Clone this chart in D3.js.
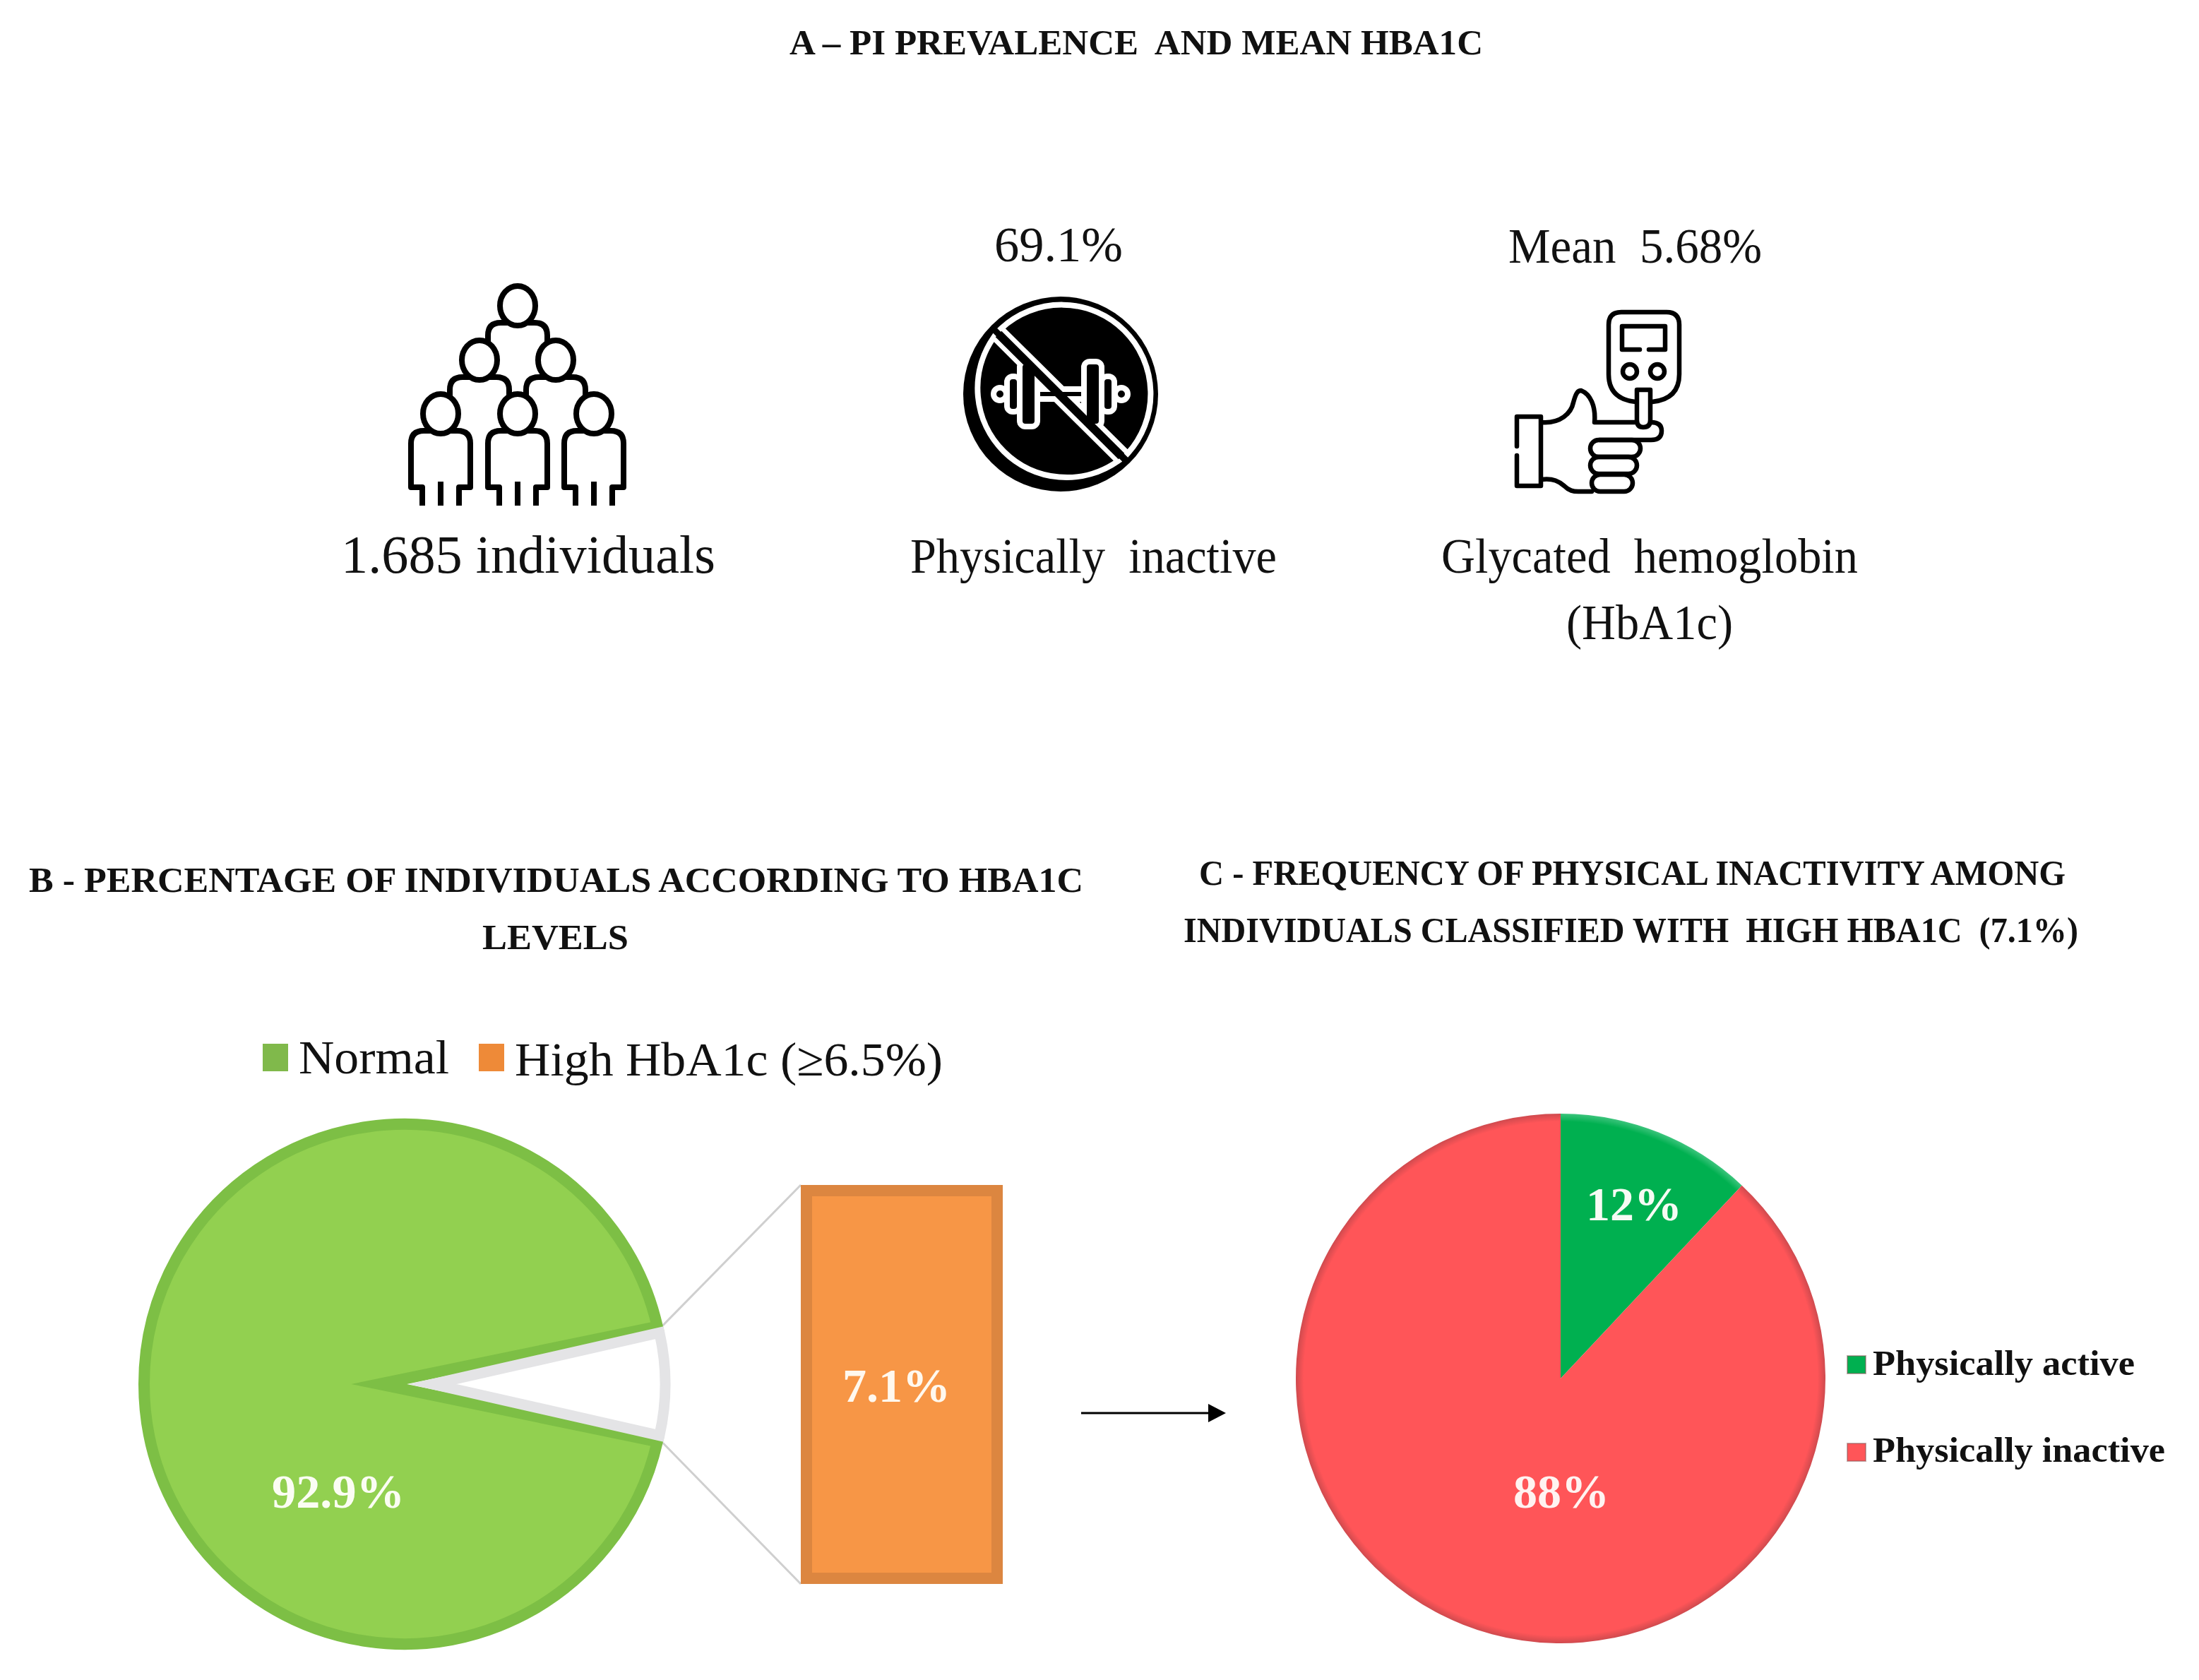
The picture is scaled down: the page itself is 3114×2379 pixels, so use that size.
<!DOCTYPE html>
<html>

<head>
  <meta charset="utf-8">
  <script src="https://d3js.org/d3.v7.min.js"></script>

  <style>
    body {
      margin: 0;
      background: #fff;
    }

    text {
      font-family: "Liberation Serif", serif;
      white-space: pre;
    }
  </style>
</head>

<body>
  <script type="text/javascript">
    // values
    var hba1cLevels = ["Normal", "High HbA1c (\u22656.5%)"];
    var hba1cValues = [92.9, 7.1];
    var hba1cLabels = ["92.9%", "7.1%"];
    var activityLevels = ["Physically active", "Physically inactive"];
    var activityValues = [12, 88];
    var activityLabels = ["12%", "88%"];

    var width = 3114,
        height = 2379;

    var svg = d3.select("body")
      .append("svg")
        .attr("width", width)
        .attr("height", height)
        .style("display", "block");

    // text is fitted between x0 and x1 so it lands where the original has it
    function label(parent, str, x0, x1, y, size, weight, fill) {
      return parent.append("text")
        .attr("x", x0)
        .attr("y", y)
        .attr("textLength", x1 - x0)
        .attr("lengthAdjust", "spacingAndGlyphs")
        .style("font-size", size + "px")
        .style("font-weight", weight || "normal")
        .style("fill", fill || "#111")
        .text(str);
    }

    /*
      Panel titles
    */
    label(svg, "A \u2013 PI PREVALENCE  AND MEAN HBA1C", 1118, 2100, 77, 50, "bold");
    label(svg, "B - PERCENTAGE OF INDIVIDUALS ACCORDING TO HBA1C", 41, 1534, 1263, 50, "bold");
    label(svg, "LEVELS", 683, 890, 1344, 50, "bold");
    label(svg, "C - FREQUENCY OF PHYSICAL INACTIVITY AMONG", 1698, 2925, 1253, 50, "bold");
    label(svg, "INDIVIDUALS CLASSIFIED WITH  HIGH HBA1C  (7.1%)", 1676, 2943, 1334, 50, "bold");

    /*
      Panel A: figures and icons
    */
    label(svg, "69.1%", 1408, 1590, 370, 70);
    label(svg, "Mean  5.68%", 2136, 2495, 372, 70);
    label(svg, "1.685 individuals", 483, 1013, 811, 76);
    label(svg, "Physically  inactive", 1289, 1808, 811, 70);
    label(svg, "Glycated  hemoglobin", 2041, 2631, 811, 70);
    label(svg, "(HbA1c)", 2218, 2454, 905, 70);

    // people pyramid, back row first so the front heads cover it
    var people = svg.append("g")
      .attr("fill", "#fff")
      .attr("stroke", "#000")
      .attr("stroke-width", 8)
      .attr("stroke-linejoin", "round");

    var shoulders = "M-42,62 V42 Q-42,24 -24,24 H24 Q42,24 42,42 V62";
    var wholeBody = "M-26,130 V104 H-42 V42 Q-42,24 -24,24 H24 Q42,24 42,42 V104 H26 V130 M0,96 V130";

    [
      {x: 733, y: 433, path: shoulders},
      {x: 679, y: 510, path: shoulders},
      {x: 787, y: 510, path: shoulders},
      {x: 624, y: 586, path: wholeBody},
      {x: 733, y: 586, path: wholeBody},
      {x: 841, y: 586, path: wholeBody}
    ].forEach(function (d) {
      var person = people.append("g")
        .attr("transform", "translate(" + d.x + "," + d.y + ")");
      person.append("path").attr("d", d.path).attr("fill", "none");
      person.append("ellipse").attr("rx", 25).attr("ry", 28);
    });

    // no-gym sign
    var sign = svg.append("g")
      .attr("transform", "translate(1502,558)");

    sign.append("circle")
      .attr("r", 138)
      .attr("fill", "#000");

    var signHalves = sign.append("g")
      .attr("fill", "#000")
      .attr("stroke", "#fff")
      .attr("stroke-width", 8);
    signHalves.append("path").attr("d", "M-84,-93 A126,126 0 0 1 95,84 Z");
    signHalves.append("path").attr("d", "M81,95 A126,126 0 0 1 -95,-80 Z");

    var bell = sign.append("g")
      .attr("fill", "#000")
      .attr("stroke", "#fff")
      .attr("stroke-width", 8);
    bell.append("rect").attr("x", -33).attr("y", -7).attr("width", 66).attr("height", 14);
    [-1, 1].forEach(function (side) {
      bell.append("circle").attr("cx", side * 86).attr("r", 9);
      bell.append("rect").attr("x", side > 0 ? 58 : -76).attr("y", -25)
        .attr("width", 18).attr("height", 50).attr("rx", 8);
      bell.append("rect").attr("x", side > 0 ? 33 : -58).attr("y", -46)
        .attr("width", 25).attr("height", 92).attr("rx", 8);
    });

    // the black band of the slash goes over the dumbbell
    sign.append("line")
      .attr("x1", -88).attr("y1", -85).attr("x2", 86).attr("y2", 88)
      .attr("stroke", "#000")
      .attr("stroke-width", 12);

    // hand holding the glucose meter
    var meter = svg.append("g")
      .attr("transform", "translate(2140,430)")
      .attr("fill", "none")
      .attr("stroke", "#000")
      .attr("stroke-width", 6.5)
      .attr("stroke-linecap", "round")
      .attr("stroke-linejoin", "round");

    [
      "M176,139 Q138,135 138,100 V30 Q138,12 156,12 H220 Q238,12 238,30 V100 Q238,135 200,139",
      "M182,65 H157 V32 H218 V65 H195",
      "M178,122 H197 V165 Q197,175 187,175 Q178,175 178,165 Z",
      "M8,202 V160 H42 V258 H8 V215",
      "M43,168 C70,170 85,155 88,140 C92,125 95,123 99,123 C112,128 120,145 118,168 H175",
      "M198,168 Q213,168 213,180 Q213,193 198,193 H125",
      "M43,249 C60,247 68,252 75,258 C82,265 88,266 95,266 H114"
    ].forEach(function (d) {
      meter.append("path").attr("d", d);
    });
    meter.append("circle").attr("cx", 168).attr("cy", 96).attr("r", 10);
    meter.append("circle").attr("cx", 207).attr("cy", 96).attr("r", 10);
    meter.append("rect").attr("x", 112).attr("y", 193).attr("width", 71).attr("height", 24).attr("rx", 12);
    meter.append("rect").attr("x", 112).attr("y", 217).attr("width", 66).attr("height", 24).attr("rx", 12);
    meter.append("rect").attr("x", 114).attr("y", 242).attr("width", 58).attr("height", 24).attr("rx", 12);

    /*
      Panel B: pie with the high HbA1c slice pulled out into a bar
    */
    var pieB = {x: 572, y: 1960, r: 368, border: 16};
    var hba1cColour = d3.scaleOrdinal(hba1cLevels, ["#92d050", "#f79646"]);
    var hba1cBorder = d3.scaleOrdinal(hba1cLevels, ["#7dbf45", "#dc8640"]);
    var hba1cSwatch = d3.scaleOrdinal(hba1cLevels, ["#80b94b", "#ee8a38"]);

    var halfGap = hba1cValues[1] / 100 * Math.PI;
    var hba1cPie = d3.pie()
      .sort(null)
      .startAngle(Math.PI / 2 + halfGap)
      .endAngle(Math.PI / 2 + halfGap + 2 * Math.PI)(hba1cValues);

    // connector lines sit behind the bar
    var barX = d3.scaleBand().domain([hba1cLevels[1]]).range([1142, 1412]);
    var barY = d3.scaleLinear().domain([0, hba1cValues[1]]).range([2235, 1686]);

    var tipX = pieB.x + (pieB.r + 8) * Math.cos(halfGap),
        tipY = (pieB.r + 8) * Math.sin(halfGap);

    svg.append("g")
      .attr("stroke", "#cfcfcf")
      .attr("stroke-width", 3)
      .selectAll("line")
      .data([-1, 1])
      .join("line")
        .attr("x1", tipX)
        .attr("y1", function (d) { return pieB.y + d * tipY; })
        .attr("x2", barX(hba1cLevels[1]) - 8)
        .attr("y2", function (d) { return d < 0 ? barY(hba1cValues[1]) - 8 : barY(0) + 8; });

    var normalGroup = svg.append("g")
      .attr("transform", "translate(" + pieB.x + "," + pieB.y + ")");

    // the notch of the big slice starts left of the pie centre in the original
    var normalPath = d3.path();
    normalPath.moveTo(-35, 0);
    normalPath.arc(0, 0, pieB.r,
      hba1cPie[0].startAngle - Math.PI / 2,
      hba1cPie[0].endAngle - Math.PI / 2);
    normalPath.closePath();

    normalGroup.append("path")
      .attr("d", normalPath.toString())
      .attr("fill", hba1cColour(hba1cLevels[0]))
      .attr("stroke", hba1cBorder(hba1cLevels[0]))
      .attr("stroke-width", pieB.border)
      .attr("stroke-miterlimit", 10);

    // the small slice has no fill of its own, only a grey border
    svg.append("path")
      .attr("transform", "translate(" + (pieB.x + 41) + "," + pieB.y + ")")
      .attr("d", d3.arc().innerRadius(0).outerRadius(329)(hba1cPie[1]))
      .attr("fill", "#fff")
      .attr("stroke", "#e4e4e6")
      .attr("stroke-width", 15)
      .attr("stroke-miterlimit", 10);

    svg.append("rect")
      .attr("x", barX(hba1cLevels[1]))
      .attr("y", barY(hba1cValues[1]))
      .attr("width", barX.bandwidth())
      .attr("height", barY(0) - barY(hba1cValues[1]))
      .attr("fill", hba1cColour(hba1cLevels[1]))
      .attr("stroke", hba1cBorder(hba1cLevels[1]))
      .attr("stroke-width", 16);

    label(svg, hba1cLabels[0], 385, 573, 2135, 68, "bold", "#fbfdf3");
    label(svg, hba1cLabels[1], 1193, 1346, 1985, 68, "bold", "#fff8ee");

    // legend B
    svg.selectAll(".legend-b")
      .data([{x: 372}, {x: 678}])
      .join("rect")
        .attr("class", "legend-b")
        .attr("x", function (d) { return d.x; })
        .attr("y", 1478)
        .attr("width", 36)
        .attr("height", 39)
        .attr("fill", function (d, i) { return hba1cSwatch(hba1cLevels[i]); });
    label(svg, hba1cLevels[0], 423, 636, 1520, 68);
    label(svg, hba1cLevels[1], 729, 1335, 1523, 68);

    // arrow from panel B to panel C
    svg.append("line")
      .attr("x1", 1531).attr("y1", 2001).attr("x2", 1715).attr("y2", 2001)
      .attr("stroke", "#000")
      .attr("stroke-width", 3);
    svg.append("path")
      .attr("d", "M1711,1988 L1736,2001 L1711,2014 Z")
      .attr("fill", "#000");

    /*
      Panel C: plain pie, slices start at twelve o'clock
    */
    var pieC = {x: 2210, y: 1952, r: 375};
    var activityColour = d3.scaleOrdinal(activityLevels, ["#00b050", "#ff5558"]);
    var activityEdge = d3.scaleOrdinal(activityLevels, ["#3cc47c", "#cf4a4e"]);

    var defs = svg.append("defs");
    activityLevels.forEach(function (name, i) {
      var grad = defs.append("radialGradient")
        .attr("id", "edge" + i)
        .attr("gradientUnits", "userSpaceOnUse")
        .attr("cx", 0).attr("cy", 0).attr("r", pieC.r);
      grad.append("stop").attr("offset", "0.97").attr("stop-color", activityColour(name));
      grad.append("stop").attr("offset", "1").attr("stop-color", activityEdge(name));
    });

    var activityArc = d3.arc().innerRadius(0).outerRadius(pieC.r);

    svg.append("g")
      .attr("transform", "translate(" + pieC.x + "," + pieC.y + ")")
      .selectAll("path")
      .data(d3.pie().sort(null)(activityValues))
      .join("path")
        .attr("d", activityArc)
        .attr("fill", function (d, i) { return "url(#edge" + i + ")"; });

    label(svg, activityLabels[0], 2246, 2382, 1728, 68, "bold", "#f6fbf4");
    label(svg, activityLabels[1], 2143, 2279, 2135, 68, "bold", "#fff3f1");

    // legend C
    svg.selectAll(".legend-c")
      .data([{y: 1920}, {y: 2044}])
      .join("rect")
        .attr("class", "legend-c")
        .attr("x", 2616)
        .attr("y", function (d) { return d.y; })
        .attr("width", 26)
        .attr("height", 25)
        .attr("fill", function (d, i) { return activityColour(activityLevels[i]); })
        .attr("stroke", "#8a5a5a")
        .attr("stroke-opacity", 0.5)
        .attr("stroke-width", 2);
    label(svg, activityLevels[0], 2652, 3023, 1947, 50, "bold");
    label(svg, activityLevels[1], 2652, 3066, 2070, 50, "bold");
  </script>
</body>

</html>
